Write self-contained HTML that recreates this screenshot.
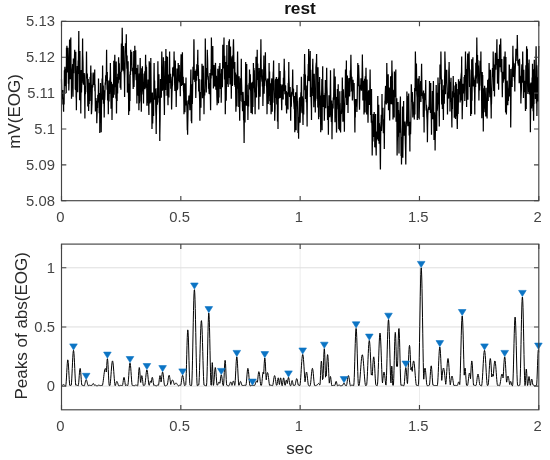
<!DOCTYPE html>
<html><head><meta charset="utf-8"><title>rest</title>
<style>
html,body{margin:0;padding:0;background:#fff;}
svg{display:block;font-family:"Liberation Sans",sans-serif;}
.tk text{font-size:14.8px;fill:#444;}
.lab{font-size:17px;fill:#2a2a2a;}
.ttl{font-size:17.3px;font-weight:bold;fill:#111;}
</style></head><body>
<svg width="550" height="460" viewBox="0 0 550 460">
<rect width="550" height="460" fill="#fff"/>
<g fill="none" stroke="#dedede" stroke-width="1"><path stroke="#ececec" d="M180.82 244.10 V409.80"/><path stroke="#ececec" d="M300.15 244.10 V409.80"/><path stroke="#ececec" d="M419.47 244.10 V409.80"/><path d="M61.50 386.13 H538.80"/><path d="M61.50 326.95 H538.80"/><path d="M61.50 267.77 H538.80"/></g>
<path d="M61.5 79.2 L61.7 88.4 L62.0 99.3 L62.2 93.3 L62.5 95.5 L62.7 90.0 L62.9 104.5 L63.2 97.4 L63.4 102.5 L63.6 111.8 L63.6 104.2 L63.9 98.0 L64.1 104.6 L64.4 70.3 L64.6 86.0 L64.8 69.5 L64.9 66.7 L65.1 75.3 L65.3 68.7 L65.6 74.5 L65.8 85.3 L66.0 86.9 L66.2 93.0 L66.3 81.5 L66.5 47.7 L66.8 63.9 L66.9 45.7 L67.0 49.5 L67.2 72.5 L67.5 54.4 L67.7 59.0 L67.9 47.7 L68.2 60.7 L68.4 83.8 L68.7 75.5 L68.8 90.5 L68.9 87.3 L69.1 81.9 L69.4 54.7 L69.6 39.5 L69.9 74.0 L70.1 66.6 L70.3 79.3 L70.6 55.9 L70.8 37.5 L70.8 40.0 L71.0 63.5 L71.3 70.4 L71.5 98.7 L71.5 96.7 L71.8 80.3 L72.0 87.6 L72.2 75.4 L72.5 70.3 L72.7 64.1 L73.0 96.7 L73.2 70.4 L73.4 58.6 L73.7 73.3 L73.9 59.9 L74.1 61.4 L74.4 60.3 L74.6 53.5 L74.7 49.8 L74.9 61.6 L75.1 56.9 L75.3 89.1 L75.6 89.6 L75.8 51.8 L76.1 96.6 L76.3 98.9 L76.4 110.2 L76.5 95.8 L76.8 86.4 L77.0 79.1 L77.3 66.0 L77.5 80.2 L77.7 92.2 L78.0 68.7 L78.2 60.6 L78.4 63.8 L78.7 43.1 L78.8 31.0 L78.9 48.2 L79.2 73.9 L79.4 65.2 L79.6 100.2 L79.9 51.1 L80.1 82.9 L80.4 81.3 L80.6 83.4 L80.8 113.5 L80.8 106.8 L81.1 85.4 L81.3 70.0 L81.5 92.4 L81.8 81.6 L82.0 83.6 L82.3 61.1 L82.5 51.5 L82.6 38.4 L82.7 53.3 L83.0 62.0 L83.2 79.4 L83.5 84.6 L83.7 84.1 L83.9 78.9 L84.2 73.1 L84.4 76.1 L84.6 90.9 L84.9 116.4 L84.9 118.4 L85.1 85.7 L85.4 94.2 L85.6 91.8 L85.8 91.7 L86.1 73.4 L86.3 74.0 L86.5 51.5 L86.6 59.2 L86.8 78.4 L87.0 73.6 L87.3 73.9 L87.5 78.7 L87.8 106.6 L88.0 84.7 L88.2 79.1 L88.5 98.0 L88.6 111.0 L88.7 105.2 L88.9 82.8 L89.2 103.9 L89.4 85.4 L89.7 92.3 L89.9 100.9 L90.1 77.9 L90.4 78.1 L90.6 76.6 L90.8 65.4 L90.9 76.6 L91.1 72.7 L91.3 97.0 L91.4 114.3 L91.6 112.0 L91.8 106.8 L92.0 103.1 L92.3 84.8 L92.5 87.7 L92.8 86.4 L93.0 75.0 L93.2 72.5 L93.5 76.8 L93.7 85.1 L94.0 76.3 L94.2 84.6 L94.4 83.3 L94.7 71.5 L94.7 69.5 L94.9 91.2 L95.1 84.5 L95.4 111.5 L95.6 103.5 L95.9 98.1 L96.1 102.9 L96.3 106.6 L96.6 102.2 L96.8 123.3 L96.8 121.3 L97.1 113.4 L97.3 100.7 L97.5 108.1 L97.8 94.7 L98.0 101.1 L98.3 102.3 L98.5 80.5 L98.5 78.5 L98.7 97.2 L99.0 94.6 L99.2 113.2 L99.4 93.0 L99.7 110.0 L99.8 133.1 L99.9 102.0 L100.2 112.3 L100.4 97.9 L100.5 83.0 L100.6 107.8 L100.9 123.0 L101.1 119.4 L101.2 132.3 L101.4 108.2 L101.6 102.6 L101.8 95.1 L102.1 78.5 L102.3 99.8 L102.5 77.8 L102.6 65.4 L102.8 83.5 L103.0 96.6 L103.3 85.4 L103.5 103.8 L103.7 90.5 L104.0 91.4 L104.2 117.6 L104.2 115.6 L104.5 97.8 L104.7 100.0 L104.9 94.5 L105.2 82.4 L105.4 84.9 L105.7 75.2 L105.9 80.9 L106.1 78.6 L106.4 70.9 L106.6 49.8 L106.6 51.8 L106.8 74.9 L107.1 89.7 L107.3 72.0 L107.6 100.4 L107.8 92.0 L108.0 87.5 L108.3 111.2 L108.3 114.3 L108.5 97.6 L108.8 80.5 L109.0 101.6 L109.2 87.5 L109.5 94.0 L109.7 82.9 L109.9 79.5 L110.2 76.5 L110.4 62.9 L110.4 66.3 L110.7 85.8 L110.9 96.6 L111.1 108.7 L111.4 81.9 L111.6 86.2 L111.9 104.5 L112.0 120.0 L112.1 112.1 L112.3 94.4 L112.6 89.5 L112.8 85.0 L113.0 85.2 L113.3 87.2 L113.5 97.8 L113.8 60.7 L114.0 71.8 L114.2 94.7 L114.5 76.2 L114.7 61.7 L114.8 54.7 L115.0 72.6 L115.2 87.2 L115.4 80.5 L115.7 76.2 L115.9 98.6 L116.2 61.4 L116.4 99.7 L116.5 113.5 L116.6 103.6 L116.9 83.0 L117.1 101.1 L117.3 77.1 L117.6 93.5 L117.8 73.7 L118.1 83.3 L118.3 81.9 L118.5 62.9 L118.6 57.2 L118.8 63.3 L119.0 70.9 L119.3 63.3 L119.5 79.6 L119.7 79.0 L120.0 71.7 L120.2 87.7 L120.4 74.2 L120.7 78.6 L120.9 89.7 L120.9 85.6 L121.2 63.9 L121.4 43.6 L121.6 72.0 L121.9 48.6 L122.1 40.8 L122.2 27.7 L122.4 41.2 L122.6 59.6 L122.8 68.5 L123.1 70.6 L123.3 54.3 L123.5 46.0 L123.8 62.7 L124.0 71.8 L124.3 75.0 L124.5 85.9 L124.6 97.1 L124.7 78.3 L125.0 69.6 L125.2 52.5 L125.5 43.2 L125.7 52.2 L125.9 49.1 L126.2 48.3 L126.3 34.3 L126.4 47.5 L126.7 63.7 L126.9 68.7 L127.1 55.4 L127.4 92.5 L127.6 91.8 L127.8 72.3 L128.1 61.3 L128.3 83.2 L128.6 99.8 L128.7 115.1 L128.8 105.5 L129.0 91.7 L129.3 83.7 L129.5 111.2 L129.8 74.6 L130.0 101.0 L130.2 71.5 L130.5 75.1 L130.7 49.8 L130.7 51.8 L130.9 64.2 L131.2 64.0 L131.4 53.6 L131.7 51.8 L131.9 66.3 L132.1 71.3 L132.4 69.2 L132.6 67.8 L132.9 77.3 L133.1 84.6 L133.2 88.9 L133.3 71.6 L133.6 68.6 L133.8 51.1 L134.0 86.9 L134.3 74.4 L134.5 65.0 L134.8 48.5 L134.8 45.7 L135.0 61.7 L135.2 74.3 L135.5 69.6 L135.7 50.3 L136.0 76.1 L136.2 80.3 L136.4 67.9 L136.7 79.8 L136.9 103.6 L136.9 101.4 L137.2 80.5 L137.4 68.2 L137.6 78.4 L137.9 67.6 L137.9 64.8 L138.1 87.1 L138.3 95.7 L138.6 89.0 L138.8 98.0 L138.9 110.2 L139.1 86.8 L139.3 73.4 L139.5 103.2 L139.8 76.2 L140.0 71.2 L140.2 58.0 L140.3 67.9 L140.5 80.8 L140.7 75.5 L141.0 101.4 L141.2 98.5 L141.3 111.8 L141.4 104.7 L141.7 68.2 L141.9 94.5 L142.2 89.1 L142.4 66.2 L142.4 68.2 L142.6 87.4 L142.9 91.3 L143.1 85.2 L143.4 85.1 L143.5 103.6 L143.6 94.5 L143.8 83.0 L144.1 73.4 L144.3 77.1 L144.6 89.0 L144.8 71.2 L145.0 89.2 L145.3 80.4 L145.5 62.2 L145.6 54.7 L145.7 64.3 L146.0 65.4 L146.2 87.8 L146.5 66.8 L146.7 81.6 L146.9 105.7 L147.2 93.2 L147.4 103.1 L147.7 85.8 L147.9 88.2 L148.1 79.5 L148.4 105.7 L148.6 98.4 L148.8 111.5 L148.9 115.1 L149.1 87.1 L149.2 61.3 L149.3 63.3 L149.6 63.3 L149.8 81.6 L150.0 103.5 L150.0 90.9 L150.3 74.1 L150.5 80.2 L150.8 64.0 L150.8 58.0 L151.0 77.0 L151.2 102.1 L151.5 95.5 L151.7 92.9 L151.9 120.1 L152.0 129.0 L152.2 112.0 L152.4 92.4 L152.7 123.6 L152.9 106.3 L153.1 104.2 L153.4 98.4 L153.6 116.0 L153.9 79.5 L154.1 64.9 L154.1 62.9 L154.3 81.6 L154.6 80.6 L154.8 99.7 L155.1 97.1 L155.3 93.8 L155.5 88.4 L155.8 111.0 L156.0 115.8 L156.2 133.9 L156.2 127.9 L156.5 110.5 L156.7 102.1 L157.0 92.4 L157.2 88.1 L157.4 104.8 L157.7 85.7 L157.9 61.3 L157.9 63.3 L158.2 88.6 L158.4 98.3 L158.6 94.8 L158.9 74.2 L159.1 102.5 L159.3 95.8 L159.6 114.1 L159.8 141.0 L159.8 136.3 L160.1 119.1 L160.3 98.9 L160.5 79.0 L160.8 85.5 L161.0 82.6 L161.3 97.7 L161.5 83.1 L161.7 60.6 L161.8 51.5 L162.0 64.3 L162.2 83.5 L162.4 90.6 L162.7 88.7 L162.9 88.6 L163.2 76.5 L163.4 57.2 L163.6 68.4 L163.9 92.9 L164.1 97.2 L164.4 111.7 L164.4 115.1 L164.6 90.9 L164.8 96.0 L165.1 60.9 L165.3 83.2 L165.6 90.0 L165.8 61.5 L165.9 49.0 L166.0 64.3 L166.3 69.9 L166.5 74.8 L166.7 55.9 L167.0 95.8 L167.2 78.0 L167.5 56.9 L167.7 85.0 L167.9 100.5 L168.0 105.3 L168.2 84.9 L168.4 74.4 L168.7 81.7 L168.9 97.4 L169.1 79.9 L169.4 76.4 L169.6 51.5 L169.6 53.5 L169.8 71.8 L170.1 82.4 L170.3 82.6 L170.6 73.7 L170.8 88.8 L171.0 76.8 L171.3 81.6 L171.5 101.7 L171.6 109.4 L171.8 100.5 L172.0 92.2 L172.2 87.0 L172.5 84.6 L172.7 67.5 L172.9 77.3 L173.2 73.1 L173.4 66.7 L173.7 75.8 L173.9 65.2 L174.1 51.5 L174.1 55.2 L174.4 65.6 L174.6 80.7 L174.9 90.9 L175.1 74.8 L175.3 60.6 L175.6 80.1 L175.8 84.6 L176.1 95.5 L176.2 106.9 L176.3 99.1 L176.5 88.5 L176.8 79.4 L177.0 68.4 L177.2 90.1 L177.5 88.2 L177.7 88.2 L178.0 76.5 L178.2 64.9 L178.2 62.9 L178.4 74.1 L178.7 73.3 L178.9 81.2 L179.2 64.9 L179.4 81.2 L179.6 81.0 L179.9 79.4 L180.1 84.7 L180.3 96.3 L180.3 91.1 L180.6 74.5 L180.8 66.7 L181.1 54.3 L181.3 64.7 L181.5 86.0 L181.8 63.7 L182.0 61.2 L182.3 63.0 L182.4 52.3 L182.5 62.5 L182.7 84.9 L183.0 81.2 L183.2 76.7 L183.5 90.1 L183.7 92.6 L183.9 103.3 L184.0 114.3 L184.2 104.1 L184.4 98.4 L184.6 83.2 L184.9 112.3 L185.1 104.3 L185.4 103.6 L185.6 95.1 L185.8 88.4 L186.0 77.6 L186.1 86.5 L186.3 105.4 L186.6 100.9 L186.8 104.0 L187.0 112.0 L187.3 130.2 L187.5 122.7 L187.6 134.7 L187.7 126.6 L188.0 112.0 L188.2 100.3 L188.5 103.0 L188.7 100.3 L188.9 95.6 L189.2 104.2 L189.4 102.4 L189.7 105.2 L189.9 110.2 L190.1 95.1 L190.4 92.7 L190.6 84.2 L190.8 73.2 L190.9 69.5 L191.1 95.9 L191.3 121.3 L191.6 104.3 L191.7 123.3 L191.8 108.4 L192.0 84.3 L192.3 104.0 L192.5 96.3 L192.8 77.3 L193.0 66.8 L193.2 73.7 L193.5 79.7 L193.7 65.8 L193.9 39.2 L194.0 41.9 L194.2 70.8 L194.4 74.2 L194.7 76.9 L194.9 82.0 L195.1 71.0 L195.4 72.7 L195.6 85.1 L195.8 97.9 L195.9 92.0 L196.1 69.4 L196.3 76.4 L196.6 80.8 L196.8 64.3 L197.1 65.8 L197.3 74.4 L197.5 64.0 L197.8 52.7 L197.8 49.8 L198.0 76.0 L198.2 65.1 L198.5 73.1 L198.7 91.5 L199.0 86.6 L199.2 79.0 L199.4 93.2 L199.7 101.5 L199.9 120.8 L199.9 118.8 L200.2 92.1 L200.4 100.5 L200.6 97.3 L200.9 107.8 L201.1 91.9 L201.3 79.6 L201.6 83.0 L201.8 82.1 L202.0 63.7 L202.1 68.3 L202.3 82.6 L202.5 98.2 L202.8 78.6 L203.0 95.2 L203.3 65.7 L203.5 93.6 L203.7 89.4 L204.0 111.6 L204.0 114.3 L204.2 94.0 L204.5 89.7 L204.7 95.5 L204.9 82.9 L205.2 66.0 L205.3 38.4 L205.4 54.4 L205.6 77.1 L205.9 68.0 L206.1 81.6 L206.3 92.5 L206.4 82.1 L206.6 69.8 L206.8 79.8 L207.1 70.2 L207.3 49.8 L207.3 51.8 L207.6 59.7 L207.8 71.2 L208.0 76.1 L208.3 76.6 L208.5 88.7 L208.7 83.2 L209.0 90.8 L209.2 94.0 L209.5 89.5 L209.7 94.3 L209.9 72.9 L210.2 83.1 L210.4 98.5 L210.6 110.2 L210.7 97.5 L210.9 69.3 L211.1 78.5 L211.4 44.9 L211.4 37.5 L211.6 55.9 L211.8 68.4 L212.1 59.4 L212.3 75.6 L212.6 60.6 L212.8 46.0 L213.0 72.1 L213.3 79.3 L213.4 88.4 L213.5 85.6 L213.8 78.0 L214.0 64.9 L214.2 75.2 L214.5 78.3 L214.7 86.4 L215.0 74.2 L215.2 72.8 L215.4 65.0 L215.5 62.9 L215.7 72.6 L215.9 89.7 L216.1 77.9 L216.4 75.7 L216.6 82.7 L216.9 97.2 L217.1 103.3 L217.1 105.3 L217.3 95.4 L217.6 91.2 L217.8 68.7 L218.1 75.9 L218.3 91.5 L218.5 103.3 L218.8 72.9 L219.0 97.4 L219.2 65.9 L219.5 80.7 L219.7 69.1 L219.9 62.9 L220.0 67.6 L220.2 80.8 L220.4 88.9 L220.7 83.1 L220.9 73.6 L221.2 98.3 L221.2 102.8 L221.4 90.7 L221.6 69.1 L221.9 71.3 L222.1 82.7 L222.4 87.3 L222.6 69.6 L222.8 44.8 L223.1 65.2 L223.3 61.8 L223.5 68.4 L223.8 52.2 L224.0 37.5 L224.0 41.7 L224.3 65.9 L224.5 79.4 L224.7 55.7 L225.0 75.8 L225.2 94.7 L225.3 114.3 L225.5 95.0 L225.7 72.1 L225.9 62.1 L226.2 100.7 L226.4 85.7 L226.6 73.1 L226.9 47.3 L226.9 44.9 L227.1 66.1 L227.4 73.2 L227.6 84.2 L227.8 64.9 L228.1 75.3 L228.2 86.9 L228.3 71.1 L228.6 71.8 L228.8 41.2 L229.0 78.0 L229.3 54.7 L229.4 39.2 L229.5 48.3 L229.7 69.5 L230.0 84.4 L230.2 61.6 L230.5 46.6 L230.7 66.8 L230.9 72.8 L231.2 88.3 L231.3 98.7 L231.4 88.1 L231.7 61.7 L231.9 58.9 L232.1 56.4 L232.4 86.0 L232.6 77.5 L232.9 54.9 L233.1 61.9 L233.3 45.2 L233.5 39.2 L233.6 45.8 L233.8 55.7 L234.0 68.7 L234.3 66.2 L234.5 84.9 L234.8 62.0 L235.0 86.7 L235.2 80.4 L235.5 72.4 L235.7 93.4 L235.9 111.8 L236.0 105.4 L236.2 74.4 L236.4 85.8 L236.7 78.1 L236.9 106.5 L237.1 96.9 L237.4 65.6 L237.6 51.5 L237.6 53.8 L237.9 76.0 L238.1 88.8 L238.3 84.6 L238.6 87.0 L238.8 107.0 L239.1 76.3 L239.3 94.3 L239.5 106.6 L239.7 120.8 L239.8 110.7 L240.0 97.8 L240.2 100.9 L240.5 78.3 L240.7 86.6 L241.0 94.9 L241.2 69.0 L241.3 58.8 L241.4 76.4 L241.7 87.1 L241.9 101.8 L242.2 94.1 L242.4 106.5 L242.6 111.1 L242.9 92.0 L243.1 92.8 L243.4 102.2 L243.6 120.2 L243.8 115.4 L244.1 139.6 L244.1 142.9 L244.3 118.8 L244.5 101.0 L244.8 106.6 L245.0 122.6 L245.3 91.8 L245.5 83.1 L245.7 62.1 L245.7 66.0 L246.0 80.1 L246.2 103.8 L246.5 105.7 L246.7 64.1 L246.9 98.2 L247.2 84.7 L247.4 101.0 L247.6 96.8 L247.9 118.0 L247.9 120.0 L248.1 105.0 L248.4 95.6 L248.6 106.4 L248.8 85.7 L249.1 83.1 L249.3 86.0 L249.5 69.5 L249.6 73.2 L249.8 84.2 L250.0 89.4 L250.3 74.2 L250.5 89.4 L250.7 90.9 L251.0 112.3 L251.2 112.3 L251.5 98.7 L251.7 82.6 L251.9 103.3 L252.2 106.8 L252.3 114.3 L252.4 100.5 L252.7 81.8 L252.9 107.0 L253.1 92.3 L253.4 66.9 L253.4 62.9 L253.6 88.2 L253.9 67.9 L254.1 76.9 L254.3 70.3 L254.6 91.3 L254.8 93.3 L255.0 105.8 L255.1 114.3 L255.3 96.2 L255.5 89.9 L255.8 92.5 L256.0 56.7 L256.2 63.8 L256.5 97.6 L256.7 77.5 L257.0 69.0 L257.2 51.8 L257.2 49.8 L257.4 76.3 L257.7 63.6 L257.9 80.0 L258.1 74.3 L258.4 85.7 L258.6 88.1 L258.8 109.4 L258.9 102.2 L259.1 67.9 L259.3 76.7 L259.6 96.4 L259.8 85.7 L260.1 96.8 L260.3 78.5 L260.5 66.9 L260.8 51.4 L260.9 39.2 L261.0 50.9 L261.3 76.9 L261.5 72.0 L261.7 78.7 L262.0 81.7 L262.2 69.2 L262.4 86.6 L262.7 75.6 L262.9 106.1 L262.9 104.1 L263.2 91.4 L263.4 85.4 L263.6 77.0 L263.9 55.6 L264.1 93.7 L264.4 80.0 L264.6 85.9 L264.8 77.8 L265.1 71.2 L265.3 63.4 L265.4 52.3 L265.5 68.0 L265.8 79.4 L266.0 79.3 L266.3 80.6 L266.5 82.1 L266.7 87.7 L267.0 110.4 L267.0 114.3 L267.2 100.2 L267.5 87.6 L267.7 78.5 L267.9 85.4 L268.2 104.1 L268.4 95.0 L268.6 95.8 L268.9 81.2 L269.1 62.9 L269.1 65.6 L269.4 84.2 L269.6 71.6 L269.8 101.2 L270.1 92.0 L270.3 104.9 L270.6 83.2 L270.8 92.4 L271.0 109.5 L271.1 114.3 L271.3 99.9 L271.5 83.2 L271.8 78.4 L272.0 93.6 L272.2 111.8 L272.5 93.2 L272.7 86.9 L272.9 81.5 L273.2 72.6 L273.4 70.7 L273.6 60.5 L273.7 73.8 L273.9 90.4 L274.1 102.7 L274.4 97.2 L274.6 102.0 L274.7 120.8 L274.9 112.8 L275.1 108.5 L275.3 80.7 L275.6 78.9 L275.8 97.9 L276.0 92.9 L276.3 82.9 L276.4 76.9 L276.5 92.6 L276.8 104.5 L277.0 92.8 L277.2 78.9 L277.5 121.6 L277.7 104.1 L278.0 124.6 L278.0 129.0 L278.2 101.0 L278.4 77.6 L278.7 98.9 L278.9 78.7 L279.0 62.9 L279.1 73.6 L279.4 79.6 L279.6 87.1 L279.9 98.0 L280.1 71.0 L280.3 97.7 L280.6 84.0 L280.8 85.7 L281.1 86.0 L281.3 95.3 L281.5 100.9 L281.7 110.2 L281.8 106.3 L282.0 93.2 L282.3 84.6 L282.5 95.9 L282.7 97.8 L283.0 98.8 L283.2 98.8 L283.4 77.8 L283.7 91.3 L283.9 75.0 L284.2 62.3 L284.2 58.8 L284.4 71.4 L284.6 70.4 L284.9 94.3 L285.1 93.6 L285.4 85.4 L285.6 85.9 L285.8 105.5 L286.1 100.7 L286.3 91.0 L286.5 109.7 L286.6 113.5 L286.8 101.8 L287.0 95.7 L287.3 92.4 L287.5 94.6 L287.7 95.5 L288.0 109.4 L288.2 83.1 L288.5 84.9 L288.7 72.6 L288.8 62.1 L288.9 77.0 L289.2 84.4 L289.4 94.4 L289.6 97.0 L289.9 89.1 L290.1 86.9 L290.4 99.3 L290.6 113.2 L290.7 120.8 L290.8 108.8 L291.1 99.3 L291.3 106.8 L291.6 93.0 L291.8 91.9 L292.0 96.4 L292.3 89.9 L292.5 82.2 L292.7 69.5 L292.8 76.9 L293.0 94.5 L293.2 88.7 L293.5 89.1 L293.7 101.9 L293.9 103.7 L294.2 109.2 L294.4 96.0 L294.7 122.1 L294.8 132.3 L294.9 123.6 L295.1 115.0 L295.4 118.4 L295.6 92.2 L295.9 117.2 L296.1 130.3 L296.3 106.6 L296.6 102.8 L296.8 96.0 L297.0 85.0 L297.0 91.5 L297.3 102.4 L297.5 102.2 L297.8 114.7 L298.0 133.1 L298.2 117.1 L298.5 124.1 L298.6 138.8 L298.7 127.3 L299.0 119.7 L299.2 118.3 L299.4 99.3 L299.7 97.3 L299.9 112.1 L300.1 122.7 L300.4 109.1 L300.6 100.4 L300.9 92.3 L301.1 104.1 L301.3 82.3 L301.4 76.8 L301.6 87.9 L301.8 111.2 L302.1 113.2 L302.3 96.4 L302.5 99.8 L302.8 112.2 L303.0 124.9 L303.0 122.9 L303.3 101.1 L303.5 98.6 L303.7 114.6 L304.0 73.9 L304.2 89.6 L304.4 74.7 L304.6 53.9 L304.7 64.5 L304.9 73.2 L305.2 90.2 L305.4 74.4 L305.6 99.1 L305.9 86.1 L306.1 85.4 L306.4 102.2 L306.6 92.7 L306.8 104.2 L307.1 123.2 L307.1 126.6 L307.3 98.8 L307.5 85.0 L307.8 75.7 L308.0 80.6 L308.3 63.9 L308.5 73.8 L308.7 49.0 L308.7 53.5 L309.0 63.7 L309.2 81.1 L309.5 77.1 L309.7 74.4 L309.9 71.2 L310.2 51.0 L310.4 97.1 L310.7 69.7 L310.9 80.1 L311.1 99.3 L311.4 109.2 L311.5 120.0 L311.6 102.9 L311.8 87.5 L312.1 88.2 L312.3 96.1 L312.6 67.1 L312.8 60.8 L312.8 58.8 L313.0 73.0 L313.3 91.4 L313.5 86.4 L313.8 107.3 L314.0 86.0 L314.2 73.8 L314.5 87.3 L314.7 98.5 L314.9 90.9 L315.2 103.8 L315.3 112.6 L315.4 92.5 L315.7 100.8 L315.9 67.6 L316.1 64.8 L316.4 65.4 L316.6 53.9 L316.6 55.9 L316.9 74.7 L317.1 67.4 L317.3 98.7 L317.6 84.3 L317.8 107.5 L318.0 67.2 L318.3 94.3 L318.5 110.7 L318.6 119.2 L318.8 107.9 L319.0 116.9 L319.2 81.9 L319.5 96.1 L319.6 76.9 L319.7 89.5 L320.0 95.4 L320.2 98.3 L320.4 107.3 L320.7 127.0 L320.7 132.3 L320.9 117.3 L321.2 95.4 L321.4 100.4 L321.6 96.7 L321.9 79.1 L322.1 130.3 L322.3 91.9 L322.6 77.3 L322.7 66.2 L322.8 85.4 L323.1 95.9 L323.3 107.0 L323.5 98.1 L323.8 97.1 L324.0 94.9 L324.3 115.4 L324.3 120.8 L324.5 112.9 L324.7 100.3 L325.0 94.0 L325.2 94.1 L325.4 80.0 L325.7 108.2 L325.9 88.9 L326.2 93.1 L326.4 92.9 L326.6 71.1 L326.7 67.8 L326.9 86.5 L327.1 91.5 L327.4 109.7 L327.6 119.9 L327.8 106.8 L328.1 106.1 L328.3 124.7 L328.4 134.7 L328.5 116.8 L328.8 109.2 L329.0 95.2 L329.3 99.0 L329.5 109.4 L329.7 117.3 L330.0 111.4 L330.2 92.9 L330.5 74.3 L330.5 70.3 L330.7 91.9 L330.9 111.7 L331.2 116.7 L331.4 121.9 L331.7 100.4 L331.9 124.4 L332.0 139.2 L332.1 126.9 L332.4 113.5 L332.6 103.8 L332.8 107.8 L333.1 108.5 L333.3 97.4 L333.6 99.6 L333.8 89.1 L334.0 73.8 L334.1 68.6 L334.3 86.7 L334.5 89.4 L334.8 97.0 L335.0 122.2 L335.2 76.6 L335.5 112.3 L335.7 96.9 L335.9 98.0 L336.2 111.5 L336.4 124.4 L336.5 132.6 L336.7 128.0 L336.9 97.0 L337.1 109.3 L337.4 89.1 L337.6 97.8 L337.9 95.7 L338.1 98.8 L338.2 84.2 L338.3 95.5 L338.6 117.2 L338.8 129.1 L339.0 128.6 L339.3 120.8 L339.5 130.6 L339.8 91.3 L340.0 105.3 L340.2 105.0 L340.5 124.9 L340.6 132.6 L340.7 122.3 L341.0 110.7 L341.2 112.3 L341.4 113.9 L341.7 108.9 L341.9 91.1 L342.2 92.3 L342.3 77.6 L342.4 84.5 L342.6 96.4 L342.9 121.7 L343.1 105.2 L343.3 89.2 L343.6 106.6 L343.8 103.2 L344.1 118.0 L344.3 123.4 L344.4 131.8 L344.5 113.0 L344.8 104.3 L345.0 96.1 L345.3 86.3 L345.5 69.4 L345.7 97.7 L346.0 86.8 L346.2 83.3 L346.4 60.5 L346.4 68.1 L346.7 104.9 L346.9 87.3 L347.2 85.2 L347.4 75.5 L347.6 94.3 L347.9 95.2 L348.0 113.0 L348.1 103.5 L348.4 94.1 L348.6 91.0 L348.8 78.2 L349.1 96.1 L349.3 78.0 L349.6 96.4 L349.8 90.5 L350.0 92.0 L350.3 70.4 L350.5 75.9 L350.7 69.1 L350.9 54.7 L351.0 61.9 L351.2 72.9 L351.5 84.2 L351.7 91.5 L351.9 76.7 L352.2 88.3 L352.4 100.4 L352.7 97.0 L352.9 87.3 L353.1 79.8 L353.4 90.1 L353.6 87.4 L353.8 83.9 L354.1 82.9 L354.3 100.2 L354.6 105.8 L354.8 125.0 L354.9 132.6 L355.0 118.0 L355.3 116.6 L355.5 99.0 L355.8 104.9 L356.0 101.1 L356.2 106.0 L356.5 106.2 L356.7 99.0 L356.9 112.0 L357.2 100.6 L357.4 84.7 L357.7 72.7 L357.8 62.9 L357.9 75.1 L358.1 86.2 L358.4 81.8 L358.6 64.9 L358.9 74.5 L359.1 79.5 L359.3 99.2 L359.5 109.7 L359.6 104.6 L359.8 92.7 L360.1 88.9 L360.3 88.9 L360.5 84.8 L360.8 85.5 L361.0 78.2 L361.2 84.5 L361.5 90.8 L361.7 83.8 L362.0 81.0 L362.2 69.1 L362.4 54.4 L362.4 60.1 L362.7 75.5 L362.9 100.5 L363.2 89.6 L363.4 83.5 L363.6 80.7 L363.9 94.6 L364.0 114.6 L364.1 105.1 L364.3 89.5 L364.6 78.7 L364.8 95.8 L365.1 112.6 L365.3 76.3 L365.5 100.4 L365.8 80.0 L366.0 67.8 L366.0 69.8 L366.3 87.7 L366.5 97.0 L366.7 114.4 L367.0 79.5 L367.2 93.3 L367.4 108.5 L367.7 91.5 L367.9 115.3 L368.0 122.8 L368.2 110.8 L368.4 102.3 L368.6 90.3 L368.9 95.4 L369.1 104.3 L369.4 104.2 L369.6 97.0 L369.8 91.3 L370.1 71.8 L370.1 69.5 L370.3 88.7 L370.6 115.1 L370.8 113.2 L371.0 108.1 L371.3 122.7 L371.5 88.9 L371.7 119.1 L372.0 126.6 L372.2 155.6 L372.2 153.5 L372.5 136.7 L372.7 121.0 L372.9 141.6 L373.2 114.0 L373.4 124.0 L373.7 128.2 L373.9 136.9 L374.1 118.0 L374.2 112.0 L374.4 119.8 L374.6 119.6 L374.8 147.3 L375.1 145.6 L375.3 145.1 L375.6 114.0 L375.8 134.6 L376.0 148.4 L376.2 155.6 L376.3 142.5 L376.5 134.0 L376.8 131.4 L377.0 136.8 L377.2 139.3 L377.5 137.4 L377.7 107.0 L377.8 96.0 L377.9 107.6 L378.2 118.8 L378.4 141.0 L378.7 104.8 L378.9 119.0 L379.1 143.7 L379.4 123.4 L379.6 127.6 L379.9 141.2 L380.1 145.0 L380.3 163.6 L380.4 169.5 L380.6 145.0 L380.8 128.3 L381.1 122.4 L381.3 114.7 L381.5 130.9 L381.8 124.1 L382.0 94.0 L382.0 96.0 L382.2 116.7 L382.5 110.1 L382.7 112.7 L383.0 107.8 L383.2 124.2 L383.4 133.3 L383.7 120.6 L383.9 120.3 L384.2 135.0 L384.3 149.0 L384.4 137.8 L384.6 117.8 L384.9 101.1 L385.1 100.7 L385.3 93.3 L385.6 85.9 L385.8 102.0 L386.1 102.8 L386.3 104.4 L386.5 96.2 L386.8 65.5 L386.8 62.9 L387.0 79.0 L387.3 92.1 L387.5 90.3 L387.7 103.2 L388.0 97.0 L388.2 74.3 L388.5 110.3 L388.7 89.5 L388.9 101.3 L389.2 87.5 L389.4 100.1 L389.6 116.0 L389.7 120.4 L389.9 106.5 L390.1 98.1 L390.4 101.0 L390.6 76.3 L390.8 93.1 L391.1 102.1 L391.3 104.3 L391.6 76.9 L391.8 73.6 L391.9 60.5 L392.0 70.1 L392.3 73.9 L392.5 104.6 L392.7 93.4 L393.0 117.5 L393.0 119.5 L393.2 101.3 L393.5 104.4 L393.7 89.7 L393.9 100.4 L394.2 117.5 L394.4 71.5 L394.7 83.1 L394.9 95.4 L395.1 97.1 L395.4 93.8 L395.6 81.3 L395.8 69.5 L395.8 82.0 L396.1 121.7 L396.3 112.7 L396.6 99.8 L396.8 98.2 L397.0 139.4 L397.1 155.6 L397.3 141.9 L397.5 135.3 L397.8 135.6 L398.0 102.1 L398.2 128.2 L398.5 109.9 L398.7 115.0 L399.0 153.6 L399.2 119.4 L399.4 120.6 L399.7 132.8 L399.9 117.7 L400.1 104.8 L400.4 98.5 L400.4 96.5 L400.6 125.0 L400.9 134.5 L401.1 156.1 L401.3 139.5 L401.5 164.6 L401.6 158.2 L401.8 143.0 L402.1 137.0 L402.3 141.7 L402.5 106.5 L402.8 157.7 L403.0 142.4 L403.2 132.1 L403.5 116.2 L403.6 101.0 L403.7 118.0 L404.0 134.3 L404.2 123.5 L404.4 135.7 L404.7 124.6 L404.9 121.4 L405.2 133.1 L405.4 143.7 L405.6 150.5 L405.8 164.6 L405.9 149.2 L406.1 134.0 L406.3 124.8 L406.6 119.5 L406.8 108.7 L406.9 91.6 L407.1 102.4 L407.3 117.5 L407.5 118.7 L407.8 126.3 L408.0 122.9 L408.3 96.0 L408.5 117.0 L408.7 93.6 L409.0 117.2 L409.2 135.4 L409.5 124.0 L409.7 135.2 L409.9 151.5 L409.9 144.8 L410.2 121.8 L410.4 127.1 L410.6 134.3 L410.9 117.6 L411.1 108.0 L411.3 84.2 L411.4 86.2 L411.6 93.8 L411.8 101.8 L412.1 98.1 L412.3 92.1 L412.6 105.6 L412.8 117.5 L413.0 101.8 L413.3 107.4 L413.5 106.7 L413.7 104.4 L414.0 112.6 L414.2 115.6 L414.3 119.5 L414.5 95.1 L414.7 88.1 L414.9 114.5 L415.2 75.7 L415.4 51.5 L415.4 53.7 L415.7 70.6 L415.9 91.3 L416.1 70.2 L416.4 63.6 L416.6 77.1 L416.8 93.9 L417.1 97.7 L417.3 120.1 L417.3 117.7 L417.6 105.3 L417.8 118.1 L418.0 78.6 L418.3 80.3 L418.5 89.2 L418.8 96.8 L419.0 86.0 L419.2 76.0 L419.2 119.5 L419.2 115.1 L419.5 101.8 L419.7 85.1 L420.0 87.4 L420.2 89.2 L420.4 86.2 L420.7 81.1 L420.9 102.1 L421.1 91.7 L421.4 76.7 L421.6 63.7 L421.6 66.1 L421.9 88.0 L422.1 95.2 L422.3 95.5 L422.6 92.5 L422.8 98.7 L423.1 94.4 L423.3 117.0 L423.5 90.6 L423.8 102.3 L424.0 121.7 L424.1 132.4 L424.2 114.6 L424.5 101.2 L424.7 93.2 L425.0 99.9 L425.2 94.3 L425.4 95.1 L425.7 83.0 L425.7 80.1 L425.9 99.3 L426.2 110.4 L426.4 104.7 L426.6 106.5 L426.9 116.5 L427.1 119.8 L427.4 135.0 L427.4 142.2 L427.6 125.8 L427.8 115.6 L428.1 109.9 L428.3 108.9 L428.5 109.4 L428.8 106.7 L429.0 110.0 L429.3 98.4 L429.5 82.9 L429.5 80.9 L429.7 94.7 L430.0 98.2 L430.2 108.1 L430.5 113.0 L430.7 82.9 L430.9 110.6 L431.2 112.9 L431.4 123.1 L431.5 134.8 L431.6 118.6 L431.9 112.0 L432.1 114.5 L432.4 90.9 L432.6 105.3 L432.8 119.1 L433.1 114.0 L433.3 90.9 L433.4 80.9 L433.6 103.4 L433.8 118.0 L434.0 139.9 L434.3 135.4 L434.5 112.3 L434.7 116.5 L435.0 133.4 L435.1 150.4 L435.2 139.9 L435.5 126.6 L435.7 115.0 L435.9 116.7 L436.2 85.0 L436.4 102.3 L436.7 131.0 L436.9 92.7 L437.1 111.0 L437.4 108.8 L437.6 103.5 L437.9 91.0 L438.0 77.6 L438.1 83.0 L438.3 102.0 L438.6 104.1 L438.8 98.1 L439.0 108.8 L439.3 124.0 L439.3 126.6 L439.5 83.3 L439.8 84.2 L440.0 64.6 L440.2 79.2 L440.5 74.0 L440.7 77.2 L440.9 51.5 L441.0 57.6 L441.2 75.4 L441.4 80.5 L441.7 104.5 L441.9 85.9 L442.1 79.6 L442.4 109.1 L442.6 89.8 L442.9 92.2 L443.1 102.0 L443.3 113.3 L443.4 120.1 L443.6 96.6 L443.8 85.2 L444.1 97.0 L444.3 103.7 L444.5 82.1 L444.8 70.3 L444.9 51.5 L445.0 58.0 L445.2 64.2 L445.5 94.3 L445.7 80.1 L446.0 69.7 L446.2 78.2 L446.4 73.7 L446.7 69.8 L446.9 82.6 L447.2 88.4 L447.4 104.8 L447.5 114.4 L447.6 100.7 L447.9 92.5 L448.1 98.4 L448.4 93.7 L448.6 98.6 L448.8 72.2 L449.1 65.3 L449.1 62.1 L449.3 75.5 L449.5 92.7 L449.8 85.2 L450.0 111.4 L450.3 95.9 L450.5 82.1 L450.7 86.1 L451.0 77.7 L451.2 101.8 L451.5 98.1 L451.7 116.0 L451.9 127.5 L451.9 123.8 L452.2 98.6 L452.4 109.0 L452.6 91.3 L452.9 93.6 L453.1 85.6 L453.2 76.0 L453.4 85.6 L453.6 97.3 L453.8 96.1 L454.1 92.8 L454.3 117.7 L454.6 99.0 L454.8 105.6 L455.0 85.4 L455.3 90.7 L455.5 118.9 L455.7 81.9 L456.0 101.7 L456.2 100.9 L456.5 83.7 L456.7 116.2 L456.9 113.3 L457.2 124.1 L457.3 129.1 L457.4 120.3 L457.7 109.8 L457.9 89.0 L458.1 114.0 L458.4 99.4 L458.5 79.3 L458.6 87.6 L458.9 85.6 L459.1 94.5 L459.3 81.3 L459.6 91.9 L459.8 88.4 L460.0 98.0 L460.1 102.5 L460.3 94.3 L460.5 78.7 L460.8 100.5 L461.0 77.6 L461.2 74.8 L461.5 72.1 L461.7 56.4 L461.7 64.4 L462.0 94.6 L462.2 116.7 L462.2 119.3 L462.4 106.6 L462.7 101.2 L462.9 91.6 L463.1 83.8 L463.4 93.6 L463.6 83.7 L463.9 91.0 L464.1 77.0 L464.3 83.3 L464.6 75.0 L464.8 100.9 L465.1 88.6 L465.3 67.1 L465.5 51.5 L465.5 57.4 L465.8 66.0 L466.0 76.7 L466.3 69.0 L466.5 91.1 L466.6 107.0 L466.7 95.2 L467.0 89.1 L467.2 72.0 L467.4 71.5 L467.7 53.5 L467.9 99.7 L468.2 53.5 L468.4 58.6 L468.6 64.2 L468.9 69.3 L469.1 51.5 L469.1 53.5 L469.4 71.3 L469.6 87.0 L469.8 69.5 L470.1 78.8 L470.3 87.7 L470.5 99.0 L470.7 116.0 L470.8 108.5 L471.0 95.8 L471.3 88.2 L471.5 114.0 L471.7 59.2 L472.0 100.7 L472.2 80.1 L472.5 83.1 L472.7 85.1 L472.9 57.2 L472.9 62.1 L473.2 75.7 L473.4 86.5 L473.6 77.4 L473.9 86.1 L474.1 79.7 L474.4 88.9 L474.6 92.9 L474.8 114.4 L474.8 107.7 L475.1 85.7 L475.3 75.5 L475.6 87.0 L475.8 62.8 L476.0 78.4 L476.3 65.9 L476.5 65.7 L476.8 43.7 L476.8 37.5 L477.0 54.1 L477.2 83.6 L477.5 55.0 L477.7 76.6 L477.9 60.0 L478.2 70.8 L478.4 65.5 L478.7 82.1 L478.9 98.5 L478.9 100.5 L479.1 86.9 L479.4 78.1 L479.6 90.4 L479.9 68.5 L480.1 60.8 L480.3 70.6 L480.6 70.0 L480.8 59.1 L480.9 51.5 L481.0 66.1 L481.3 85.7 L481.5 82.0 L481.8 118.3 L482.0 97.1 L482.2 72.0 L482.5 89.7 L482.7 75.0 L483.0 106.2 L483.2 117.5 L483.3 131.6 L483.4 111.5 L483.7 107.4 L483.9 88.2 L484.1 112.3 L484.4 100.4 L484.6 85.8 L484.6 87.8 L484.9 98.0 L485.1 94.0 L485.3 105.6 L485.6 109.9 L485.8 116.5 L486.1 87.8 L486.3 115.6 L486.5 112.5 L486.8 107.8 L487.0 116.5 L487.1 118.5 L487.3 104.9 L487.5 94.2 L487.7 79.8 L488.0 96.1 L488.2 101.0 L488.4 86.0 L488.7 78.5 L488.9 83.8 L489.1 62.9 L489.2 68.1 L489.4 91.1 L489.6 92.3 L489.9 97.1 L490.1 91.4 L490.4 69.7 L490.6 90.5 L490.8 99.4 L491.1 108.6 L491.2 118.5 L491.3 104.8 L491.5 103.5 L491.8 89.1 L492.0 83.5 L492.3 73.3 L492.5 68.0 L492.7 76.8 L493.0 73.3 L493.2 51.5 L493.2 53.8 L493.5 73.6 L493.7 90.9 L493.9 83.3 L494.2 64.6 L494.4 90.0 L494.5 96.4 L494.6 87.0 L494.9 72.5 L495.1 64.9 L495.4 52.7 L495.6 65.7 L495.8 69.8 L496.1 61.6 L496.3 64.8 L496.6 59.0 L496.8 47.6 L496.9 39.2 L497.0 50.4 L497.3 61.8 L497.5 83.6 L497.8 80.8 L498.0 65.5 L498.2 58.9 L498.5 74.0 L498.6 89.8 L498.7 79.6 L498.9 71.7 L499.2 63.3 L499.4 54.0 L499.7 44.5 L499.9 54.7 L500.1 67.3 L500.4 56.4 L500.6 43.3 L500.7 38.4 L500.9 52.7 L501.1 69.7 L501.3 72.3 L501.6 66.1 L501.8 59.1 L502.0 77.5 L502.3 95.0 L502.3 97.2 L502.5 84.4 L502.8 71.7 L503.0 82.1 L503.2 82.1 L503.5 75.2 L503.7 80.6 L504.0 56.4 L504.2 78.9 L504.4 59.2 L504.7 67.0 L504.9 60.5 L505.1 51.5 L505.2 59.1 L505.4 88.4 L505.6 112.4 L505.9 56.9 L506.1 88.4 L506.3 106.6 L506.4 114.4 L506.6 103.3 L506.8 99.1 L507.1 80.7 L507.3 82.2 L507.5 103.6 L507.8 105.2 L508.0 88.5 L508.3 100.9 L508.5 96.4 L508.7 88.9 L509.0 83.2 L509.2 64.6 L509.2 66.8 L509.4 66.6 L509.7 94.4 L509.7 96.4 L509.9 70.9 L510.2 76.8 L510.2 68.9 L510.4 85.9 L510.6 104.9 L510.7 127.4 L510.9 110.0 L511.1 85.1 L511.4 84.9 L511.6 81.1 L511.8 69.1 L512.1 87.0 L512.3 67.5 L512.5 75.2 L512.8 56.8 L512.9 45.7 L513.0 55.6 L513.3 61.9 L513.5 77.0 L513.7 71.3 L514.0 63.3 L514.2 71.2 L514.5 80.8 L514.7 81.5 L514.8 91.4 L514.9 80.8 L515.2 70.4 L515.4 65.1 L515.7 58.2 L515.9 48.8 L516.1 61.1 L516.4 53.2 L516.6 49.5 L516.8 53.9 L517.1 53.0 L517.3 35.1 L517.3 37.1 L517.6 52.2 L517.8 63.4 L518.0 61.7 L518.3 65.8 L518.5 60.5 L518.8 65.4 L519.0 59.7 L519.2 83.2 L519.5 58.7 L519.7 63.9 L519.9 80.9 L520.2 75.8 L520.4 78.9 L520.7 88.5 L520.9 103.6 L520.9 101.6 L521.1 95.0 L521.4 89.3 L521.6 71.2 L521.9 64.4 L522.1 82.7 L522.3 69.4 L522.6 66.0 L522.7 51.5 L522.8 60.8 L523.0 70.1 L523.3 77.5 L523.5 98.1 L523.8 69.8 L524.0 82.5 L524.2 92.2 L524.5 80.7 L524.7 81.6 L525.0 88.1 L525.2 91.3 L525.4 107.0 L525.5 111.0 L525.7 83.8 L525.9 65.3 L526.2 109.0 L526.4 69.1 L526.6 46.2 L526.6 51.0 L526.9 71.1 L527.1 66.9 L527.3 48.7 L527.6 84.3 L527.8 91.4 L527.9 94.1 L528.1 84.9 L528.3 77.6 L528.5 92.1 L528.8 63.0 L529.0 69.0 L529.1 59.6 L529.3 88.6 L529.5 94.5 L529.7 83.4 L530.0 85.9 L530.2 97.6 L530.4 132.3 L530.4 125.5 L530.7 106.4 L530.9 82.6 L531.2 108.6 L531.4 84.4 L531.6 108.4 L531.9 100.9 L532.1 78.3 L532.4 76.8 L532.5 63.7 L532.6 74.1 L532.8 96.8 L533.1 111.2 L533.3 69.3 L533.5 112.2 L533.6 120.8 L533.8 101.9 L534.0 103.9 L534.3 59.8 L534.5 92.8 L534.7 88.1 L535.0 79.1 L535.2 78.7 L535.5 99.0 L535.7 71.9 L535.9 63.3 L536.1 46.2 L536.2 62.5 L536.4 103.4 L536.7 65.2 L536.9 112.2 L536.9 116.0 L537.1 94.9 L537.4 82.8 L537.6 81.1 L537.8 77.3 L538.1 101.5 L538.3 71.3 L538.6 61.5 L538.8 46.0 L538.8 48.0" fill="none" stroke="#000" stroke-width="1.25" stroke-linejoin="miter" stroke-miterlimit="4"/>
<path d="M61.50 385.52 L61.75 385.56 L62.00 385.59 L62.25 385.38 L62.50 385.12 L62.75 384.88 L63.00 384.68 L63.25 384.55 L63.50 384.50 L63.75 384.55 L64.00 384.68 L64.25 384.88 L64.50 385.12 L64.75 385.38 L65.00 385.61 L65.25 385.77 L65.50 385.84 L65.75 385.76 L66.00 384.23 L66.25 381.20 L66.50 377.06 L66.75 372.37 L67.00 367.75 L67.25 363.79 L67.50 361.03 L67.75 359.83 L68.00 360.35 L68.25 362.52 L68.50 366.05 L68.75 370.48 L69.00 375.22 L69.25 379.65 L69.50 383.18 L69.75 385.35 L70.00 385.49 L70.25 385.45 L70.50 385.43 L70.75 385.43 L71.00 385.46 L71.25 385.19 L71.50 382.79 L71.75 378.91 L72.00 373.95 L72.25 368.41 L72.50 362.84 L72.75 357.79 L73.00 353.77 L73.25 351.19 L73.50 350.30 L73.75 351.19 L74.00 353.77 L74.25 357.79 L74.50 362.84 L74.75 368.41 L75.00 373.95 L75.25 378.91 L75.50 382.79 L75.75 385.19 L76.00 385.30 L76.25 385.16 L76.50 385.08 L76.75 385.06 L77.00 385.12 L77.25 385.23 L77.50 385.38 L77.75 385.53 L78.00 385.65 L78.25 385.72 L78.50 384.63 L78.75 382.22 L79.00 378.98 L79.25 375.43 L79.50 372.16 L79.75 369.68 L80.00 368.42 L80.25 368.56 L80.50 370.09 L80.75 372.76 L81.00 376.14 L81.25 379.67 L81.50 382.78 L81.75 384.97 L82.00 385.35 L82.25 385.31 L82.50 385.30 L82.75 385.32 L83.00 385.39 L83.25 385.49 L83.50 385.60 L83.75 385.70 L84.00 385.76 L84.25 385.77 L84.50 385.25 L84.75 384.41 L85.00 383.36 L85.25 382.24 L85.50 381.19 L85.75 380.35 L86.00 379.83 L86.25 379.71 L86.50 379.99 L86.75 380.65 L87.00 381.59 L87.25 382.69 L87.50 383.80 L87.75 384.78 L88.00 385.50 L88.25 385.67 L88.50 385.55 L88.75 385.43 L89.00 385.33 L89.25 385.27 L89.50 385.25 L89.75 385.28 L90.00 385.33 L90.25 385.39 L90.50 385.44 L90.75 385.47 L91.00 385.47 L91.25 385.45 L91.50 385.41 L91.75 385.39 L92.00 385.39 L92.25 384.90 L92.50 384.35 L92.75 383.88 L93.00 383.58 L93.25 383.51 L93.50 383.68 L93.75 384.06 L94.00 384.57 L94.25 385.11 L94.50 385.31 L94.75 385.18 L95.00 385.10 L95.25 385.07 L95.50 385.12 L95.75 385.23 L96.00 385.39 L96.25 385.55 L96.50 385.70 L96.75 385.80 L97.00 385.84 L97.25 385.80 L97.50 385.70 L97.75 385.57 L98.00 385.42 L98.25 385.29 L98.50 385.20 L98.75 385.17 L99.00 385.19 L99.25 385.26 L99.50 385.35 L99.75 385.44 L100.00 385.51 L100.25 385.54 L100.50 385.55 L100.75 385.52 L101.00 385.49 L101.25 385.46 L101.50 385.45 L101.75 385.46 L102.00 385.50 L102.25 385.55 L102.50 385.16 L102.75 384.09 L103.00 382.60 L103.25 380.80 L103.50 378.78 L103.75 376.67 L104.00 374.59 L104.25 372.67 L104.50 371.01 L104.75 369.72 L105.00 368.87 L105.25 368.51 L105.50 368.66 L105.75 369.32 L106.00 370.45 L106.25 371.97 L106.50 370.70 L106.75 365.45 L107.00 361.29 L107.25 358.90 L107.50 358.68 L107.75 360.65 L108.00 364.50 L108.25 369.60 L108.50 375.12 L108.75 380.17 L109.00 383.92 L109.25 385.54 L109.50 385.61 L109.75 385.64 L110.00 385.22 L110.25 383.63 L110.50 381.23 L110.75 378.22 L111.00 374.84 L111.25 371.34 L111.50 368.00 L111.75 365.08 L112.00 362.82 L112.25 361.39 L112.50 360.90 L112.75 361.39 L113.00 362.82 L113.25 365.08 L113.50 368.00 L113.75 371.34 L114.00 374.84 L114.25 378.22 L114.50 381.23 L114.75 383.63 L115.00 385.22 L115.25 385.66 L115.50 385.10 L115.75 384.31 L116.00 383.40 L116.25 382.54 L116.50 381.86 L116.75 381.47 L117.00 381.43 L117.25 381.75 L117.50 382.39 L117.75 383.22 L118.00 384.13 L118.25 384.96 L118.50 385.57 L118.75 385.68 L119.00 385.72 L119.25 385.72 L119.50 385.66 L119.75 385.58 L120.00 385.49 L120.25 385.41 L120.50 385.37 L120.75 385.36 L121.00 385.38 L121.25 385.41 L121.50 385.44 L121.75 385.46 L122.00 385.45 L122.25 385.41 L122.50 385.36 L122.75 384.41 L123.00 382.69 L123.25 380.74 L123.50 378.97 L123.75 377.74 L124.00 377.30 L124.25 377.74 L124.50 378.97 L124.75 380.74 L125.00 382.69 L125.25 384.41 L125.50 385.55 L125.75 385.39 L126.00 385.24 L126.25 385.12 L126.50 385.06 L126.75 385.07 L127.00 385.15 L127.25 385.28 L127.50 385.44 L127.75 385.60 L128.00 384.57 L128.25 382.27 L128.50 379.11 L128.75 375.43 L129.00 371.64 L129.25 368.15 L129.50 365.34 L129.75 363.53 L130.00 362.90 L130.25 363.53 L130.50 365.34 L130.75 368.15 L131.00 371.64 L131.25 375.43 L131.50 379.11 L131.75 382.27 L132.00 384.57 L132.25 385.39 L132.50 385.37 L132.75 385.39 L133.00 385.44 L133.25 385.51 L133.50 385.59 L133.75 385.67 L134.00 385.71 L134.25 385.70 L134.50 385.64 L134.75 385.53 L135.00 385.39 L135.25 385.25 L135.50 385.14 L135.75 385.07 L136.00 385.08 L136.25 385.15 L136.50 385.28 L136.75 385.45 L137.00 385.61 L137.25 385.75 L137.50 385.82 L137.75 385.46 L138.00 383.32 L138.25 379.83 L138.50 375.69 L138.75 371.76 L139.00 368.85 L139.25 367.54 L139.50 368.11 L139.75 370.44 L140.00 374.05 L140.25 378.21 L140.50 382.05 L140.75 382.50 L141.00 380.19 L141.25 377.99 L141.50 376.35 L141.75 375.62 L142.00 375.94 L142.25 377.24 L142.50 379.27 L142.75 381.59 L143.00 383.75 L143.25 385.29 L143.50 385.62 L143.75 385.59 L144.00 385.51 L144.25 385.40 L144.50 385.28 L144.75 385.18 L145.00 384.42 L145.25 382.55 L145.50 380.18 L145.75 377.55 L146.00 374.97 L146.25 372.70 L146.50 371.00 L146.75 370.06 L147.00 369.97 L147.25 370.75 L147.50 372.31 L147.75 374.48 L148.00 377.03 L148.25 379.67 L148.50 382.11 L148.75 384.10 L149.00 385.15 L149.25 385.25 L149.50 384.49 L149.75 383.41 L150.00 382.33 L150.25 381.48 L150.50 381.04 L150.75 381.09 L151.00 381.63 L151.25 382.53 L151.50 381.13 L151.75 379.29 L152.00 377.93 L152.25 377.32 L152.50 377.58 L152.75 378.67 L153.00 380.36 L153.25 382.30 L153.50 384.10 L153.75 385.33 L154.00 385.25 L154.25 385.20 L154.50 385.19 L154.75 385.23 L155.00 385.33 L155.25 385.46 L155.50 385.61 L155.75 385.73 L156.00 385.81 L156.25 385.83 L156.50 385.78 L156.75 385.66 L157.00 385.50 L157.25 385.34 L157.50 385.19 L157.75 385.09 L158.00 385.07 L158.25 385.11 L158.50 385.21 L158.75 384.12 L159.00 382.05 L159.25 379.72 L159.50 377.60 L159.75 376.13 L160.00 375.60 L160.25 376.13 L160.50 377.60 L160.75 379.72 L161.00 382.05 L161.25 381.67 L161.50 379.20 L161.75 376.71 L162.00 374.50 L162.25 372.89 L162.50 372.07 L162.75 372.17 L163.00 373.15 L163.25 374.91 L163.50 377.19 L163.75 379.71 L164.00 382.13 L164.25 384.13 L164.50 385.44 L164.75 385.58 L165.00 385.69 L165.25 385.77 L165.50 385.79 L165.75 385.75 L166.00 385.64 L166.25 385.50 L166.50 385.33 L166.75 385.19 L167.00 385.08 L167.25 385.05 L167.50 384.28 L167.75 382.67 L168.00 380.79 L168.25 378.89 L168.50 377.21 L168.75 375.98 L169.00 375.36 L169.25 375.43 L169.50 376.18 L169.75 377.52 L170.00 379.26 L170.25 381.18 L170.50 383.02 L170.75 384.52 L171.00 383.70 L171.25 382.81 L171.50 381.93 L171.75 381.15 L172.00 380.53 L172.25 380.14 L172.50 380.00 L172.75 380.14 L173.00 380.53 L173.25 381.15 L173.50 381.93 L173.75 382.81 L174.00 383.70 L174.25 384.52 L174.50 384.82 L174.75 384.38 L175.00 383.95 L175.25 383.56 L175.50 383.26 L175.75 383.07 L176.00 383.00 L176.25 383.07 L176.50 383.26 L176.75 383.56 L177.00 383.95 L177.25 384.38 L177.50 384.82 L177.75 385.22 L178.00 385.55 L178.25 385.78 L178.50 385.81 L178.75 385.72 L179.00 385.60 L179.25 385.45 L179.50 385.32 L179.75 385.23 L180.00 385.19 L180.25 385.20 L180.50 385.26 L180.75 385.34 L181.00 384.28 L181.25 382.67 L181.50 380.79 L181.75 378.89 L182.00 377.21 L182.25 375.98 L182.50 375.36 L182.75 375.43 L183.00 376.18 L183.25 377.52 L183.50 379.26 L183.75 381.18 L184.00 383.02 L184.25 384.55 L184.50 385.55 L184.75 385.47 L185.00 385.35 L185.25 385.24 L185.50 385.15 L185.75 384.74 L186.00 380.40 L186.25 373.37 L186.50 364.47 L186.75 354.78 L187.00 345.46 L187.25 337.62 L187.50 332.21 L187.75 329.87 L188.00 330.88 L188.25 335.12 L188.50 342.09 L188.75 350.94 L189.00 360.63 L189.25 369.98 L189.50 377.87 L189.75 383.37 L190.00 385.29 L190.25 385.41 L190.50 385.51 L190.75 385.58 L191.00 385.62 L191.25 385.61 L191.50 385.57 L191.75 384.11 L192.00 378.94 L192.25 370.76 L192.50 360.18 L192.75 347.95 L193.00 334.97 L193.25 322.19 L193.50 310.54 L193.75 300.86 L194.00 293.85 L194.25 290.03 L194.50 289.68 L194.75 292.82 L195.00 299.22 L195.25 308.42 L195.50 319.74 L195.75 332.37 L196.00 345.38 L196.25 357.83 L196.50 368.81 L196.75 377.53 L197.00 383.34 L197.25 385.74 L197.50 385.61 L197.75 385.44 L198.00 385.28 L198.25 385.15 L198.50 385.08 L198.75 385.08 L199.00 382.72 L199.25 377.66 L199.50 370.68 L199.75 362.32 L200.00 353.24 L200.25 344.16 L200.50 335.78 L200.75 328.76 L201.00 323.65 L201.25 320.86 L201.50 320.61 L201.75 322.90 L202.00 327.57 L202.25 334.24 L202.50 342.40 L202.75 351.40 L203.00 360.54 L203.25 369.10 L203.50 376.41 L203.75 381.89 L204.00 385.12 L204.25 385.26 L204.50 385.26 L204.75 385.31 L205.00 385.39 L205.25 385.51 L205.50 385.63 L205.75 385.73 L206.00 385.79 L206.25 385.79 L206.50 385.72 L206.75 382.76 L207.00 376.11 L207.25 366.55 L207.50 355.12 L207.75 343.07 L208.00 331.72 L208.25 322.30 L208.50 315.86 L208.75 313.08 L209.00 314.28 L209.25 319.32 L209.50 327.65 L209.75 338.37 L210.00 350.30 L210.25 362.13 L210.50 372.58 L210.75 380.50 L211.00 385.03 L211.25 385.29 L211.50 382.32 L211.75 374.63 L212.00 366.72 L212.25 362.62 L212.50 364.44 L212.75 371.24 L213.00 379.55 L213.25 385.13 L213.50 385.37 L213.75 384.16 L214.00 381.43 L214.25 377.93 L214.50 374.23 L214.75 370.93 L215.00 368.57 L215.25 367.53 L215.50 367.98 L215.75 369.85 L216.00 372.83 L216.25 376.44 L216.50 380.09 L216.75 383.19 L217.00 385.08 L217.25 385.06 L217.50 385.13 L217.75 384.81 L218.00 384.05 L218.25 383.28 L218.50 382.61 L218.75 382.16 L219.00 382.00 L219.25 382.16 L219.50 382.61 L219.75 383.28 L220.00 383.20 L220.25 381.09 L220.50 378.86 L220.75 376.87 L221.00 375.45 L221.25 374.82 L221.50 375.09 L221.75 376.22 L222.00 378.01 L222.25 380.19 L222.50 382.40 L222.75 384.27 L223.00 385.44 L223.25 385.43 L223.50 385.44 L223.75 383.06 L224.00 378.48 L224.25 372.76 L224.50 367.10 L224.75 362.65 L225.00 360.31 L225.25 360.58 L225.50 363.39 L225.75 368.17 L226.00 373.94 L226.25 379.52 L226.50 383.76 L226.75 385.15 L227.00 385.26 L227.25 385.41 L227.50 385.58 L227.75 385.72 L228.00 385.82 L228.25 385.85 L228.50 385.80 L228.75 385.70 L229.00 385.55 L229.25 385.39 L229.50 385.06 L229.75 384.23 L230.00 383.32 L230.25 382.54 L230.50 382.03 L230.75 381.91 L231.00 382.19 L231.25 382.83 L231.50 383.68 L231.75 384.58 L232.00 385.34 L232.25 384.69 L232.50 383.63 L232.75 382.53 L233.00 381.63 L233.25 381.09 L233.50 381.04 L233.75 381.48 L234.00 382.33 L234.25 383.41 L234.50 384.49 L234.75 385.36 L235.00 384.04 L235.25 380.66 L235.50 376.05 L235.75 370.82 L236.00 365.66 L236.25 361.25 L236.50 358.18 L236.75 356.84 L237.00 357.42 L237.25 359.83 L237.50 363.77 L237.75 368.71 L238.00 373.99 L238.25 378.93 L238.50 382.87 L238.75 385.22 L239.00 385.12 L239.25 385.08 L239.50 384.22 L239.75 383.20 L240.00 382.27 L240.25 381.63 L240.50 381.40 L240.75 381.63 L241.00 382.27 L241.25 383.20 L241.50 384.22 L241.75 385.12 L242.00 385.47 L242.25 385.42 L242.50 385.39 L242.75 385.40 L243.00 385.42 L243.25 385.45 L243.50 385.47 L243.75 385.47 L244.00 385.44 L244.25 385.39 L244.50 385.32 L244.75 385.27 L245.00 385.25 L245.25 385.26 L245.50 385.33 L245.75 385.43 L246.00 385.32 L246.25 383.65 L246.50 381.12 L246.75 378.06 L247.00 374.87 L247.25 371.98 L247.50 369.76 L247.75 368.51 L248.00 368.39 L248.25 369.43 L248.50 371.47 L248.75 374.26 L249.00 377.42 L249.25 380.54 L249.50 383.21 L249.75 385.07 L250.00 385.72 L250.25 385.77 L250.50 385.76 L250.75 385.69 L251.00 385.59 L251.25 385.48 L251.50 385.39 L251.75 385.32 L252.00 385.30 L252.25 385.32 L252.50 385.35 L252.75 385.40 L253.00 385.44 L253.25 385.45 L253.50 385.44 L253.75 385.41 L254.00 385.37 L254.25 385.34 L254.50 385.34 L254.75 385.37 L255.00 384.88 L255.25 384.07 L255.50 383.18 L255.75 382.33 L256.00 381.63 L256.25 381.16 L256.50 381.00 L256.75 381.16 L257.00 381.63 L257.25 382.33 L257.50 382.02 L257.75 379.53 L258.00 376.94 L258.25 374.59 L258.50 372.79 L258.75 371.77 L259.00 371.68 L259.25 372.51 L259.50 374.18 L259.75 376.44 L260.00 379.01 L260.25 381.55 L260.50 383.71 L260.75 385.22 L261.00 385.26 L261.25 385.22 L261.50 385.22 L261.75 383.85 L262.00 381.51 L262.25 378.75 L262.50 376.03 L262.75 373.77 L263.00 372.36 L263.25 372.02 L263.50 372.81 L263.75 373.81 L264.00 368.20 L264.25 363.20 L264.50 359.62 L264.75 358.05 L265.00 358.73 L265.25 361.56 L265.50 366.08 L265.75 371.55 L266.00 377.09 L266.25 379.80 L266.50 377.59 L266.75 375.56 L267.00 373.92 L267.25 372.87 L267.50 372.50 L267.75 372.87 L268.00 373.92 L268.25 375.56 L268.50 377.59 L268.75 379.80 L269.00 381.94 L269.25 383.79 L269.50 385.13 L269.75 385.49 L270.00 385.33 L270.25 385.21 L270.50 385.15 L270.75 385.14 L271.00 385.19 L271.25 385.28 L271.50 385.39 L271.75 385.49 L272.00 385.56 L272.25 385.59 L272.50 385.59 L272.75 385.41 L273.00 384.32 L273.25 382.76 L273.50 380.94 L273.75 379.09 L274.00 377.46 L274.25 376.26 L274.50 375.65 L274.75 375.72 L275.00 376.45 L275.25 377.75 L275.50 379.45 L275.75 381.31 L276.00 383.10 L276.25 384.59 L276.50 385.16 L276.75 385.22 L277.00 385.11 L277.25 383.47 L277.50 381.41 L277.75 379.46 L278.00 378.15 L278.25 377.82 L278.50 378.57 L278.75 380.19 L279.00 382.25 L279.25 384.21 L279.50 384.54 L279.75 382.67 L280.00 380.58 L280.25 378.83 L280.50 377.89 L280.75 378.00 L281.00 379.13 L281.25 380.99 L281.50 383.08 L281.75 384.84 L282.00 385.65 L282.25 385.58 L282.50 384.54 L282.75 382.67 L283.00 380.58 L283.25 378.83 L283.50 377.89 L283.75 378.00 L284.00 379.13 L284.25 380.99 L284.50 383.08 L284.75 384.84 L285.00 385.35 L285.25 385.13 L285.50 383.84 L285.75 382.32 L286.00 380.97 L286.25 380.14 L286.50 380.06 L286.75 380.75 L287.00 382.03 L287.25 383.55 L287.50 382.69 L287.75 380.74 L288.00 378.97 L288.25 377.74 L288.50 377.30 L288.75 377.74 L289.00 378.97 L289.25 380.74 L289.50 382.69 L289.75 384.41 L290.00 385.36 L290.25 385.52 L290.50 385.65 L290.75 385.74 L291.00 384.99 L291.25 383.75 L291.50 382.35 L291.75 381.19 L292.00 380.56 L292.25 380.63 L292.50 381.39 L292.75 382.63 L293.00 384.02 L293.25 385.19 L293.50 385.42 L293.75 385.45 L294.00 385.45 L294.25 385.42 L294.50 385.38 L294.75 385.34 L295.00 385.33 L295.25 384.83 L295.50 383.60 L295.75 382.15 L296.00 380.71 L296.25 379.53 L296.50 378.79 L296.75 378.61 L297.00 379.02 L297.25 379.96 L297.50 381.27 L297.75 382.74 L298.00 384.13 L298.25 385.08 L298.50 385.06 L298.75 385.10 L299.00 385.21 L299.25 385.37 L299.50 385.53 L299.75 385.68 L300.00 385.08 L300.25 383.29 L300.50 380.60 L300.75 377.20 L301.00 373.33 L301.25 369.25 L301.50 365.22 L301.75 361.53 L302.00 358.42 L302.25 356.11 L302.50 354.74 L302.75 354.42 L303.00 355.17 L303.25 356.92 L303.50 359.58 L303.75 362.95 L304.00 366.81 L304.25 370.89 L304.50 374.92 L304.75 378.63 L305.00 381.77 L305.25 380.71 L305.50 378.19 L305.75 375.77 L306.00 373.77 L306.25 372.46 L306.50 372.00 L306.75 372.46 L307.00 373.77 L307.25 375.77 L307.50 378.19 L307.75 380.71 L308.00 382.99 L308.25 384.75 L308.50 385.37 L308.75 385.54 L309.00 385.69 L309.25 385.80 L309.50 385.85 L309.75 385.82 L310.00 385.72 L310.25 385.54 L310.50 384.27 L310.75 382.22 L311.00 379.61 L311.25 376.72 L311.50 373.87 L311.75 371.38 L312.00 369.51 L312.25 368.47 L312.50 368.38 L312.75 369.23 L313.00 370.95 L313.25 373.34 L313.50 376.14 L313.75 379.04 L314.00 381.73 L314.25 383.92 L314.50 385.36 L314.75 385.51 L315.00 385.55 L315.25 385.58 L315.50 385.57 L315.75 385.53 L316.00 385.45 L316.25 385.35 L316.50 385.25 L316.75 385.18 L317.00 385.14 L317.25 385.00 L317.50 384.57 L317.75 384.15 L318.00 383.81 L318.25 383.58 L318.50 383.50 L318.75 383.58 L319.00 383.81 L319.25 384.15 L319.50 384.57 L319.75 385.00 L320.00 384.84 L320.25 381.16 L320.50 375.67 L320.75 369.65 L321.00 364.51 L321.25 361.43 L321.50 361.14 L321.75 363.70 L322.00 368.51 L322.25 374.46 L322.50 379.61 L322.75 379.00 L323.00 378.95 L323.25 373.59 L323.50 365.21 L323.75 357.25 L324.00 351.33 L324.25 348.68 L324.50 349.83 L324.75 354.55 L325.00 361.88 L325.25 370.30 L325.50 377.21 L325.75 376.02 L326.00 375.60 L326.25 376.02 L326.50 372.05 L326.75 366.05 L327.00 360.64 L327.25 356.63 L327.50 354.59 L327.75 354.82 L328.00 357.29 L328.25 361.64 L328.50 367.23 L328.75 373.25 L329.00 378.82 L329.25 383.12 L329.50 382.59 L329.75 380.14 L330.00 377.96 L330.25 376.63 L330.50 376.50 L330.75 377.61 L331.00 379.66 L331.25 382.11 L331.50 384.30 L331.75 385.65 L332.00 385.69 L332.25 385.60 L332.50 385.50 L332.75 385.41 L333.00 385.35 L333.25 385.33 L333.50 385.34 L333.75 385.37 L334.00 385.41 L334.25 385.44 L334.50 385.45 L334.75 385.43 L335.00 385.14 L335.25 384.10 L335.50 382.95 L335.75 381.97 L336.00 381.45 L336.25 381.51 L336.50 382.14 L336.75 383.17 L337.00 384.33 L337.25 385.31 L337.50 385.75 L337.75 385.68 L338.00 385.56 L338.25 385.41 L338.50 385.25 L338.75 385.13 L339.00 385.06 L339.25 385.06 L339.50 385.14 L339.75 385.27 L340.00 385.43 L340.25 385.59 L340.50 385.72 L340.75 385.80 L341.00 385.81 L341.25 385.75 L341.50 385.65 L341.75 385.52 L342.00 385.39 L342.25 385.30 L342.50 385.24 L342.75 385.24 L343.00 384.82 L343.25 384.16 L343.50 383.56 L343.75 383.15 L344.00 383.00 L344.25 383.15 L344.50 383.56 L344.75 384.16 L345.00 384.82 L345.25 385.40 L345.50 385.44 L345.75 385.49 L346.00 385.56 L346.25 385.63 L346.50 385.56 L346.75 384.59 L347.00 383.10 L347.25 381.31 L347.50 379.45 L347.75 377.75 L348.00 376.45 L348.25 375.72 L348.50 375.65 L348.75 376.26 L349.00 377.46 L349.25 379.09 L349.50 380.94 L349.75 382.76 L350.00 384.32 L350.25 385.41 L350.50 385.78 L350.75 385.67 L351.00 385.52 L351.25 385.37 L351.50 385.25 L351.75 385.17 L352.00 385.15 L352.25 385.19 L352.50 385.27 L352.75 385.37 L353.00 385.46 L353.25 385.53 L353.50 385.56 L353.75 385.55 L354.00 382.73 L354.25 377.34 L354.50 369.91 L354.75 361.21 L355.00 352.08 L355.25 343.45 L355.50 336.19 L355.75 331.01 L356.00 328.43 L356.25 328.72 L356.50 331.85 L356.75 337.49 L357.00 345.10 L357.25 353.89 L357.50 363.01 L357.75 371.53 L358.00 378.60 L358.25 383.51 L358.50 385.44 L358.75 385.60 L359.00 385.74 L359.25 384.92 L359.50 383.31 L359.75 381.02 L360.00 378.18 L360.25 374.93 L360.50 371.44 L360.75 367.89 L361.00 364.46 L361.25 361.34 L361.50 358.68 L361.75 356.63 L362.00 355.28 L362.25 354.72 L362.50 354.96 L362.75 356.00 L363.00 357.78 L363.25 360.21 L363.50 363.17 L363.75 366.49 L364.00 370.02 L364.25 373.55 L364.50 376.92 L364.75 379.95 L365.00 382.47 L365.25 384.36 L365.50 385.50 L365.75 385.48 L366.00 385.43 L366.25 385.36 L366.50 385.28 L366.75 384.27 L367.00 381.24 L367.25 376.90 L367.50 371.57 L367.75 365.62 L368.00 359.50 L368.25 353.65 L368.50 348.49 L368.75 344.40 L369.00 341.69 L369.25 340.53 L369.50 341.03 L369.75 343.14 L370.00 346.71 L370.25 351.48 L370.50 357.10 L370.75 363.17 L371.00 369.24 L371.25 374.87 L371.50 374.56 L371.75 374.02 L372.00 374.25 L372.25 375.24 L372.50 371.69 L372.75 366.93 L373.00 362.65 L373.25 359.32 L373.50 357.31 L373.75 356.83 L374.00 357.94 L374.25 360.51 L374.50 364.27 L374.75 368.80 L375.00 373.61 L375.25 378.17 L375.50 381.99 L375.75 384.64 L376.00 385.32 L376.25 385.30 L376.50 385.31 L376.75 385.37 L377.00 385.45 L377.25 385.56 L377.50 384.46 L377.75 381.10 L378.00 376.04 L378.25 369.69 L378.50 362.53 L378.75 355.14 L379.00 348.09 L379.25 341.94 L379.50 337.16 L379.75 334.14 L380.00 333.10 L380.25 334.14 L380.50 337.16 L380.75 341.94 L381.00 348.09 L381.25 355.14 L381.50 362.53 L381.75 369.69 L382.00 376.04 L382.25 381.10 L382.50 382.99 L382.75 380.71 L383.00 378.19 L383.25 375.77 L383.50 373.77 L383.75 372.46 L384.00 372.00 L384.25 372.46 L384.50 373.77 L384.75 375.77 L385.00 378.19 L385.25 380.71 L385.50 382.99 L385.75 384.75 L386.00 385.11 L386.25 381.66 L386.50 375.76 L386.75 367.91 L387.00 358.77 L387.25 349.12 L387.50 339.78 L387.75 331.54 L388.00 325.10 L388.25 321.01 L388.50 319.60 L388.75 321.01 L389.00 325.10 L389.25 331.54 L389.50 339.78 L389.75 349.12 L390.00 358.77 L390.25 367.91 L390.50 375.76 L390.75 381.66 L391.00 382.86 L391.25 376.31 L391.50 369.59 L391.75 366.11 L392.00 367.65 L392.25 373.43 L392.50 380.50 L392.75 385.17 L393.00 385.23 L393.25 385.31 L393.50 384.06 L393.75 378.57 L394.00 370.24 L394.25 360.28 L394.50 350.15 L394.75 341.33 L395.00 335.10 L395.25 332.38 L395.50 333.56 L395.75 338.47 L396.00 346.39 L396.25 356.17 L396.50 366.38 L396.75 365.91 L397.00 364.34 L397.25 364.52 L397.50 366.41 L397.75 360.21 L398.00 349.75 L398.25 340.26 L398.50 332.99 L398.75 328.89 L399.00 328.51 L399.25 331.89 L399.50 338.60 L399.75 347.73 L400.00 358.10 L400.25 368.33 L400.50 377.07 L400.75 383.17 L401.00 385.46 L401.25 385.30 L401.50 385.18 L401.75 385.11 L402.00 385.11 L402.25 385.17 L402.50 385.27 L402.75 385.39 L403.00 385.51 L403.25 385.60 L403.50 385.64 L403.75 385.64 L404.00 385.60 L404.25 384.16 L404.50 381.43 L404.75 377.93 L405.00 374.23 L405.25 370.93 L405.50 368.57 L405.75 367.53 L406.00 367.98 L406.25 369.85 L406.50 372.83 L406.75 376.44 L407.00 380.09 L407.25 383.19 L407.50 383.57 L407.75 379.51 L408.00 373.94 L408.25 367.46 L408.50 360.79 L408.75 354.65 L409.00 349.70 L409.25 346.51 L409.50 345.40 L409.75 346.51 L410.00 349.70 L410.25 354.65 L410.50 360.79 L410.75 367.46 L411.00 369.85 L411.25 368.11 L411.50 367.50 L411.75 368.11 L412.00 369.85 L412.25 371.39 L412.50 368.27 L412.75 365.50 L413.00 363.27 L413.25 361.72 L413.50 360.97 L413.75 361.05 L414.00 361.97 L414.25 363.67 L414.50 366.02 L414.75 368.87 L415.00 372.03 L415.25 375.28 L415.50 378.41 L415.75 381.19 L416.00 383.45 L416.25 385.03 L416.50 385.34 L416.75 385.30 L417.00 385.29 L417.25 385.32 L417.50 385.39 L417.75 385.49 L418.00 385.61 L418.25 385.71 L418.50 384.49 L418.75 378.96 L419.00 369.64 L419.25 357.20 L419.50 342.56 L419.75 326.77 L420.00 310.99 L420.25 296.36 L420.50 283.95 L420.75 274.67 L421.00 269.18 L421.25 267.89 L421.50 270.89 L421.75 277.96 L422.00 288.59 L422.25 302.00 L422.50 317.23 L422.75 333.15 L423.00 348.61 L423.25 362.50 L423.50 373.78 L423.75 379.21 L424.00 375.97 L424.25 372.86 L424.50 370.28 L424.75 368.59 L425.00 368.00 L425.25 368.59 L425.50 370.28 L425.75 372.86 L426.00 375.97 L426.25 379.21 L426.50 382.16 L426.75 384.41 L427.00 385.48 L427.25 385.56 L427.50 385.64 L427.75 385.69 L428.00 385.70 L428.25 385.66 L428.50 385.57 L428.75 385.44 L429.00 385.30 L429.25 385.17 L429.50 385.09 L429.75 382.94 L430.00 379.55 L430.25 375.56 L430.50 371.62 L430.75 368.37 L431.00 366.33 L431.25 365.83 L431.50 366.97 L431.75 369.55 L432.00 373.15 L432.25 377.19 L432.50 381.02 L432.75 384.00 L433.00 385.20 L433.25 385.17 L433.50 385.20 L433.75 385.27 L434.00 385.35 L434.25 385.44 L434.50 385.51 L434.75 385.54 L435.00 385.54 L435.25 385.51 L435.50 385.48 L435.75 385.45 L436.00 385.44 L436.25 385.46 L436.50 385.50 L436.75 385.55 L437.00 385.60 L437.25 385.62 L437.50 384.78 L437.75 381.99 L438.00 377.77 L438.25 372.51 L438.50 366.69 L438.75 360.85 L439.00 355.52 L439.25 351.20 L439.50 348.28 L439.75 347.04 L440.00 347.57 L440.25 349.85 L440.50 353.65 L440.75 358.63 L441.00 364.32 L441.25 370.22 L441.50 375.76 L441.75 380.40 L442.00 377.98 L442.25 375.47 L442.50 373.08 L442.75 371.00 L443.00 369.38 L443.25 368.35 L443.50 368.00 L443.75 368.35 L444.00 369.38 L444.25 371.00 L444.50 373.08 L444.75 375.47 L445.00 377.98 L445.25 380.40 L445.50 382.56 L445.75 384.27 L446.00 382.62 L446.25 379.48 L446.50 375.67 L446.75 371.53 L447.00 367.46 L447.25 363.83 L447.50 360.96 L447.75 359.13 L448.00 358.50 L448.25 359.13 L448.50 360.96 L448.75 363.83 L449.00 367.46 L449.25 371.53 L449.50 375.67 L449.75 379.48 L450.00 382.62 L450.25 384.81 L450.50 383.83 L450.75 382.20 L451.00 380.41 L451.25 378.69 L451.50 377.26 L451.75 376.33 L452.00 376.00 L452.25 376.33 L452.50 377.26 L452.75 378.69 L453.00 380.41 L453.25 382.20 L453.50 383.83 L453.75 385.08 L454.00 385.65 L454.25 385.57 L454.50 385.48 L454.75 385.41 L455.00 385.37 L455.25 385.36 L455.50 385.38 L455.75 385.42 L456.00 385.45 L456.25 385.46 L456.50 385.45 L456.75 385.41 L457.00 385.36 L457.25 385.31 L457.50 385.28 L457.75 384.70 L458.00 383.68 L458.25 382.72 L458.50 382.07 L458.75 381.91 L459.00 382.28 L459.25 383.08 L459.50 384.10 L459.75 384.56 L460.00 380.37 L460.25 373.68 L460.50 365.06 L460.75 355.24 L461.00 345.05 L461.25 335.35 L461.50 326.98 L461.75 320.63 L462.00 316.85 L462.25 315.96 L462.50 318.03 L462.75 322.89 L463.00 330.12 L463.25 339.12 L463.50 349.11 L463.75 359.26 L464.00 368.69 L464.25 375.16 L464.50 371.48 L464.75 368.92 L465.00 368.00 L465.25 368.92 L465.50 371.48 L465.75 375.16 L466.00 379.21 L466.25 382.80 L466.50 385.19 L466.75 385.38 L467.00 385.37 L467.25 385.39 L467.50 385.44 L467.75 384.83 L468.00 383.20 L468.25 381.08 L468.50 378.74 L468.75 376.50 L469.00 374.65 L469.25 373.43 L469.50 373.00 L469.75 373.43 L470.00 374.65 L470.25 376.50 L470.50 378.74 L470.75 375.07 L471.00 370.04 L471.25 365.56 L471.50 362.35 L471.75 360.94 L472.00 361.55 L472.25 364.09 L472.50 368.14 L472.75 373.04 L473.00 378.01 L473.25 382.22 L473.50 385.00 L473.75 385.19 L474.00 385.19 L474.25 385.23 L474.50 385.31 L474.75 385.39 L475.00 385.47 L475.25 385.52 L475.50 385.53 L475.75 385.52 L476.00 385.49 L476.25 384.91 L476.50 383.41 L476.75 381.45 L477.00 379.30 L477.25 377.23 L477.50 375.52 L477.75 374.39 L478.00 374.00 L478.25 374.39 L478.50 375.52 L478.75 377.23 L479.00 379.30 L479.25 381.45 L479.50 383.41 L479.75 384.91 L480.00 385.19 L480.25 385.31 L480.50 385.46 L480.75 385.62 L481.00 385.76 L481.25 385.84 L481.50 385.84 L481.75 385.25 L482.00 383.44 L482.25 380.59 L482.50 376.89 L482.75 372.60 L483.00 368.01 L483.25 363.42 L483.50 359.15 L483.75 355.48 L484.00 352.67 L484.25 350.90 L484.50 350.30 L484.75 350.90 L485.00 352.67 L485.25 355.48 L485.50 359.15 L485.75 363.42 L486.00 368.01 L486.25 372.60 L486.50 376.89 L486.75 380.59 L487.00 383.44 L487.25 385.25 L487.50 385.53 L487.75 385.48 L488.00 385.41 L488.25 384.72 L488.50 382.22 L488.75 378.63 L489.00 374.33 L489.25 369.80 L489.50 365.53 L489.75 362.00 L490.00 359.57 L490.25 358.53 L490.50 358.98 L490.75 360.88 L491.00 364.01 L491.25 368.04 L491.50 372.52 L491.75 376.97 L492.00 375.95 L492.25 375.01 L492.50 374.54 L492.75 374.59 L493.00 375.16 L493.25 376.19 L493.50 373.44 L493.75 369.97 L494.00 366.77 L494.25 364.09 L494.50 362.14 L494.75 361.08 L495.00 360.98 L495.25 361.85 L495.50 363.64 L495.75 366.18 L496.00 369.30 L496.25 372.73 L496.50 376.22 L496.75 379.49 L497.00 382.28 L497.25 384.37 L497.50 385.38 L497.75 385.32 L498.00 385.28 L498.25 385.26 L498.50 385.29 L498.75 385.36 L499.00 385.47 L499.25 385.59 L499.50 385.70 L499.75 385.43 L500.00 384.48 L500.25 383.11 L500.50 381.45 L500.75 379.66 L501.00 377.89 L501.25 376.31 L501.50 375.07 L501.75 374.27 L502.00 374.00 L502.25 374.27 L502.50 375.07 L502.75 376.31 L503.00 377.89 L503.25 376.41 L503.50 371.69 L503.75 366.93 L504.00 362.65 L504.25 359.32 L504.50 357.31 L504.75 356.83 L505.00 357.94 L505.25 360.51 L505.50 364.27 L505.75 368.80 L506.00 373.61 L506.25 378.17 L506.50 381.99 L506.75 382.20 L507.00 380.41 L507.25 378.69 L507.50 377.26 L507.75 376.33 L508.00 376.00 L508.25 376.33 L508.50 377.26 L508.75 378.69 L509.00 380.41 L509.25 382.20 L509.50 383.83 L509.75 384.55 L510.00 383.40 L510.25 382.32 L510.50 381.59 L510.75 381.41 L511.00 381.83 L511.25 382.73 L511.50 383.87 L511.75 384.96 L512.00 385.52 L512.25 385.67 L512.50 385.78 L512.75 384.55 L513.00 380.16 L513.25 373.13 L513.50 364.08 L513.75 353.87 L514.00 343.43 L514.25 333.71 L514.50 325.62 L514.75 319.89 L515.00 317.06 L515.25 317.37 L515.50 320.82 L515.75 327.07 L516.00 335.55 L516.25 345.49 L516.50 355.96 L516.75 366.01 L517.00 374.72 L517.25 381.27 L517.50 385.07 L517.75 385.51 L518.00 385.56 L518.25 385.62 L518.50 385.64 L518.75 385.63 L519.00 385.57 L519.25 385.47 L519.50 385.35 L519.75 385.23 L520.00 383.41 L520.25 377.39 L520.50 368.32 L520.75 356.96 L521.00 344.28 L521.25 331.35 L521.50 319.26 L521.75 309.05 L522.00 301.58 L522.25 297.48 L522.50 297.10 L522.75 300.48 L523.00 307.32 L523.25 317.04 L523.50 328.83 L523.75 341.68 L524.00 354.50 L524.25 366.20 L524.50 375.80 L524.75 382.48 L525.00 385.52 L525.25 384.50 L525.50 380.56 L525.75 375.51 L526.00 371.16 L526.25 369.06 L526.50 369.98 L526.75 373.59 L527.00 378.58 L527.25 383.17 L527.50 385.51 L527.75 385.25 L528.00 383.52 L528.25 381.18 L528.50 378.84 L528.75 377.13 L529.00 376.50 L529.25 377.13 L529.50 378.84 L529.75 381.18 L530.00 383.52 L530.25 385.25 L530.50 385.22 L530.75 383.83 L531.00 382.07 L531.25 380.41 L531.50 379.30 L531.75 379.02 L532.00 379.65 L532.25 381.03 L532.50 382.79 L532.75 384.46 L533.00 385.08 L533.25 385.08 L533.50 385.15 L533.75 385.27 L534.00 385.41 L534.25 385.54 L534.50 385.64 L534.75 385.69 L535.00 385.69 L535.25 385.65 L535.50 385.58 L535.75 385.50 L536.00 385.43 L536.25 385.39 L536.50 385.39 L536.75 383.99 L537.00 379.46 L537.25 373.01 L537.50 365.71 L537.75 358.73 L538.00 353.20 L538.25 350.04 L538.50 349.74 L538.75 352.36" fill="none" stroke="#000" stroke-width="1" stroke-linejoin="round"/>
<g fill="#0b74c4" stroke="#0b74c4" stroke-width="0.6" stroke-linejoin="round"><path d="M73.5 350.0 l-3.8 -6.1 h7.6 z"/><path d="M86.2 379.4 l-3.8 -6.1 h7.6 z"/><path d="M107.4 358.2 l-3.8 -6.1 h7.6 z"/><path d="M130.0 362.6 l-3.8 -6.1 h7.6 z"/><path d="M146.9 369.6 l-3.8 -6.1 h7.6 z"/><path d="M162.6 371.7 l-3.8 -6.1 h7.6 z"/><path d="M182.6 375.0 l-3.8 -6.1 h7.6 z"/><path d="M194.4 289.1 l-3.8 -6.1 h7.6 z"/><path d="M208.8 312.7 l-3.8 -6.1 h7.6 z"/><path d="M221.3 374.5 l-3.8 -6.1 h7.6 z"/><path d="M236.8 356.5 l-3.8 -6.1 h7.6 z"/><path d="M252.5 385.2 l-3.8 -6.1 h7.6 z"/><path d="M264.8 357.7 l-3.8 -6.1 h7.6 z"/><path d="M288.5 377.0 l-3.8 -6.1 h7.6 z"/><path d="M302.7 354.1 l-3.8 -6.1 h7.6 z"/><path d="M324.3 348.3 l-3.8 -6.1 h7.6 z"/><path d="M344.0 382.7 l-3.8 -6.1 h7.6 z"/><path d="M356.1 327.9 l-3.8 -6.1 h7.6 z"/><path d="M369.3 340.2 l-3.8 -6.1 h7.6 z"/><path d="M388.5 319.3 l-3.8 -6.1 h7.6 z"/><path d="M405.8 367.2 l-3.8 -6.1 h7.6 z"/><path d="M421.2 267.5 l-3.8 -6.1 h7.6 z"/><path d="M439.8 346.7 l-3.8 -6.1 h7.6 z"/><path d="M462.2 315.6 l-3.8 -6.1 h7.6 z"/><path d="M484.5 350.0 l-3.8 -6.1 h7.6 z"/><path d="M504.7 356.5 l-3.8 -6.1 h7.6 z"/><path d="M522.4 296.5 l-3.8 -6.1 h7.6 z"/><path d="M538.4 349.2 l-3.8 -6.1 h7.6 z"/></g>
<g fill="none" stroke="#444" stroke-width="1.15">
<rect x="61.5" y="21.4" width="477.29999999999995" height="179.29999999999998"/>
<rect x="61.5" y="244.1" width="477.29999999999995" height="165.70000000000002"/>
<path d="M61.50 200.70 v-4.8 M61.50 21.40 v4.8"/><path d="M180.82 200.70 v-4.8 M180.82 21.40 v4.8"/><path d="M300.15 200.70 v-4.8 M300.15 21.40 v4.8"/><path d="M419.47 200.70 v-4.8 M419.47 21.40 v4.8"/><path d="M538.80 200.70 v-4.8 M538.80 21.40 v4.8"/><path d="M61.50 200.70 h4.8 M538.80 200.70 h-4.8"/><path d="M61.50 164.84 h4.8 M538.80 164.84 h-4.8"/><path d="M61.50 128.98 h4.8 M538.80 128.98 h-4.8"/><path d="M61.50 93.12 h4.8 M538.80 93.12 h-4.8"/><path d="M61.50 57.26 h4.8 M538.80 57.26 h-4.8"/><path d="M61.50 21.40 h4.8 M538.80 21.40 h-4.8"/><path d="M61.50 409.80 v-4.8 M61.50 244.10 v4.8"/><path d="M180.82 409.80 v-4.8 M180.82 244.10 v4.8"/><path d="M300.15 409.80 v-4.8 M300.15 244.10 v4.8"/><path d="M419.47 409.80 v-4.8 M419.47 244.10 v4.8"/><path d="M538.80 409.80 v-4.8 M538.80 244.10 v4.8"/><path d="M61.50 386.13 h4.8 M538.80 386.13 h-4.8"/><path d="M61.50 326.95 h4.8 M538.80 326.95 h-4.8"/><path d="M61.50 267.77 h4.8 M538.80 267.77 h-4.8"/>
</g>
<g class="tk"><text x="60.3" y="222.1" text-anchor="middle">0</text><text x="179.6" y="222.1" text-anchor="middle">0.5</text><text x="298.9" y="222.1" text-anchor="middle">1</text><text x="418.3" y="222.1" text-anchor="middle">1.5</text><text x="537.6" y="222.1" text-anchor="middle">2</text><text x="54.9" y="205.6" text-anchor="end">5.08</text><text x="54.9" y="169.7" text-anchor="end">5.09</text><text x="54.9" y="133.9" text-anchor="end">5.1</text><text x="54.9" y="98.0" text-anchor="end">5.11</text><text x="54.9" y="62.2" text-anchor="end">5.12</text><text x="54.9" y="26.3" text-anchor="end">5.13</text><text x="60.3" y="430.6" text-anchor="middle">0</text><text x="179.6" y="430.6" text-anchor="middle">0.5</text><text x="298.9" y="430.6" text-anchor="middle">1</text><text x="418.3" y="430.6" text-anchor="middle">1.5</text><text x="537.6" y="430.6" text-anchor="middle">2</text><text x="54.9" y="391.0" text-anchor="end">0</text><text x="54.9" y="331.8" text-anchor="end">0.5</text><text x="54.9" y="272.7" text-anchor="end">1</text></g>
<text class="ttl" x="300" y="14.4" text-anchor="middle">rest</text>
<text class="lab" x="299.5" y="453.7" text-anchor="middle">sec</text>
<text class="lab" transform="translate(20,111.4) rotate(-90)" text-anchor="middle">mV(EOG)</text>
<text class="lab" transform="translate(27.3,325.8) rotate(-90)" text-anchor="middle">Peaks of abs(EOG)</text>
</svg>
</body></html>
